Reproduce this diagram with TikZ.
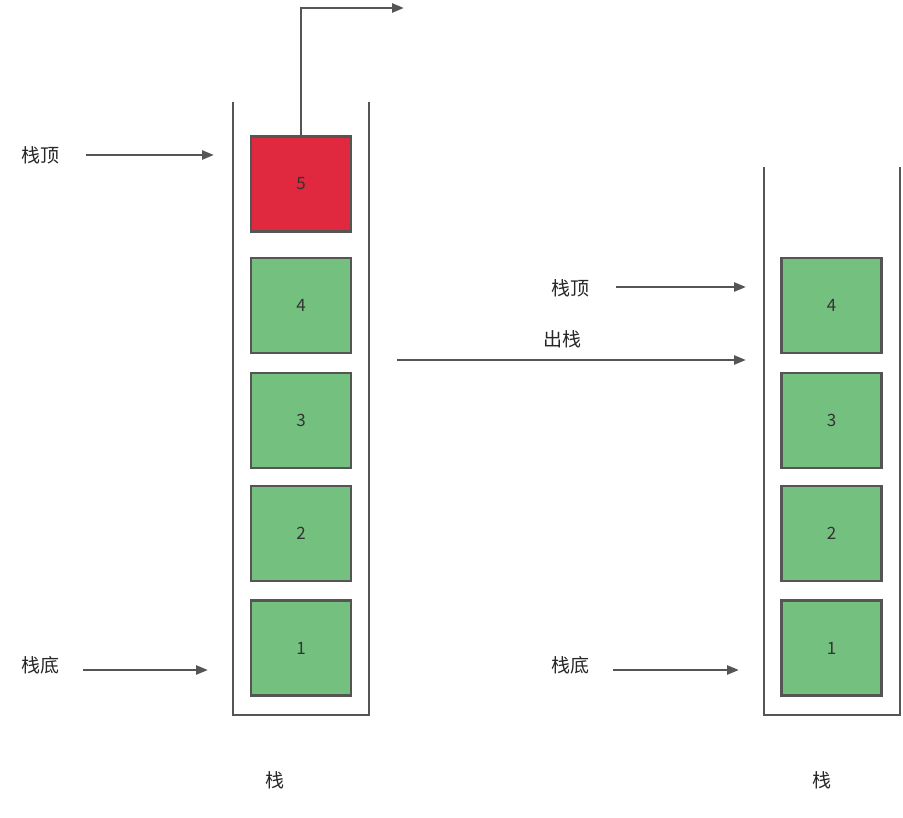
\documentclass[tikz,border=0pt]{standalone}
\usepackage{fontspec}
\setmainfont{Noto Sans CJK SC}
\usetikzlibrary{arrows.meta}
\definecolor{ln}{HTML}{555555}
\definecolor{gr}{HTML}{73C07F}
\definecolor{rd}{HTML}{E0293F}
\tikzset{
 wall/.style={draw=ln,line width=2.5pt},
 cell/.style={draw=ln,line width=2.5pt,minimum width=100pt,minimum height=95pt,inner sep=0pt,font=\fontsize{17}{17}\selectfont,text=black!80},
 arr/.style={draw=ln,line width=2.5pt,-{Triangle[length=12pt,width=9pt]}},
 lbl/.style={font=\fontsize{19}{19}\selectfont,text=black!85}
}
\begin{document}
\begin{tikzpicture}[x=1pt,y=-1pt]
\useasboundingbox (0,0) rectangle (903,818);
% left stack
\draw[wall] (233,102) -- (233,715) -- (369,715) -- (369,102);
\node[cell,fill=rd] (r5) at (301,184) {5};
\node[cell,fill=gr] (l4) at (301,305.5) {4};
\node[cell,fill=gr] (l3) at (301,420.5) {3};
\node[cell,fill=gr] (l2) at (301,533.5) {2};
\node[cell,fill=gr] (l1) at (301,648) {1};
\coordinate (out) at (404,8);
\draw[arr] (r5.north) -- (301,8) -- (out);
\node[lbl] (lt) at (40,155) {栈顶};
\coordinate (lta) at (214,155);
\draw[arr] (86,155) -- (lta);
\node[lbl] (lb) at (40,665) {栈底};
\coordinate (lba) at (208,670);
\draw[arr] (83,670) -- (lba);
\node[lbl] (ls) at (275,780) {栈};
% right stack
\draw[wall] (764,167) -- (764,715) -- (900,715) -- (900,167);
\node[cell,fill=gr] (r4) at (831.5,305.5) {4};
\node[cell,fill=gr] (r3) at (831.5,420.5) {3};
\node[cell,fill=gr] (r2) at (831.5,533.5) {2};
\node[cell,fill=gr] (r1) at (831.5,648) {1};
\node[lbl] (rt) at (570,288) {栈顶};
\coordinate (rta) at (746,287);
\draw[arr] (616,287) -- (rta);
\node[lbl] (po) at (562,339) {出栈};
\coordinate (poa) at (746,360);
\draw[arr] (397,360) -- (poa);
\node[lbl] (rb) at (570,665) {栈底};
\coordinate (rba) at (739,670);
\draw[arr] (613,670) -- (rba);
\node[lbl] (rs) at (822,780) {栈};
\end{tikzpicture}
\end{document}
